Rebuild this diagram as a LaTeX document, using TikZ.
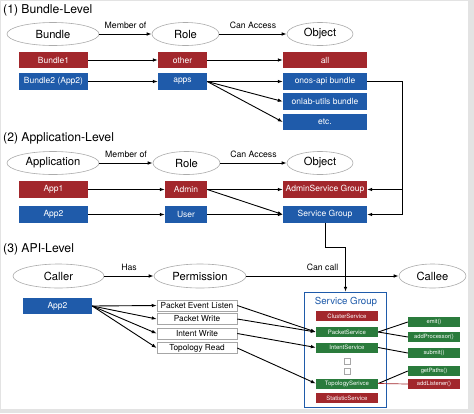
\documentclass[tikz,border=0pt]{standalone}
\usepackage{fontspec}
\setmainfont{TeX Gyre Heros}
\usetikzlibrary{arrows.meta,shapes.geometric}
\definecolor{bred}{HTML}{A2272C}
\definecolor{bblue}{HTML}{1F5BAA}
\definecolor{bgreen}{HTML}{2A7B3C}
\begin{document}
\begin{tikzpicture}[x=1pt,y=-1pt,
  ell/.style={ellipse, draw=gray!65, line width=0.6pt, inner sep=0, font=\fontsize{11.2}{13}\selectfont},
  boxb/.style={inner sep=0, minimum height=16.5pt, text=white, font=\fontsize{8.5}{9}\selectfont},
  rbox/.style={boxb, fill=bred},
  bbox/.style={boxb, fill=bblue},
  pbox/.style={draw=gray!70, line width=0.5pt, fill=white, minimum width=80pt, minimum height=11pt, inner sep=0, font=\fontsize{8.3}{9}\selectfont},
  sbox/.style={minimum width=62pt, minimum height=10pt, inner sep=0, text=white, font=\fontsize{6}{6}\selectfont},
  mbox/.style={minimum width=52pt, minimum height=10pt, inner sep=0, text=white, font=\fontsize{5.8}{6}\selectfont},
  arr/.style={-{Latex[length=5pt,width=3.6pt]}, line width=0.9pt},
  ln/.style={line width=0.9pt},
  lbl/.style={font=\fontsize{8.7}{10}\selectfont, inner sep=0},
  ttl/.style={font=\fontsize{12.2}{14}\selectfont, anchor=west, inner sep=0}
]
\fill[gray!22] (0,0) rectangle (474,413);
\fill[white] (1.2,1.2) rectangle (468,409);
\useasboundingbox (0,0) rectangle (474,413);

% ---------- Section 1
\node[ttl] (t1) at (3,10) {(1) Bundle-Level};
\node[ell, minimum width=92pt, minimum height=23pt] (bundle) at (53,34) {Bundle};
\node[ell, minimum width=67pt, minimum height=23pt] (role1) at (185.5,34) {Role};
\node[ell, minimum width=66pt, minimum height=23pt] (obj1) at (320,34) {Object};
\draw[arr] (bundle) -- node[lbl, above=5pt] (mo1) {Member of} (role1);
\draw[arr] (role1) -- node[lbl, above=5pt] (ca1) {Can Access} (obj1);

\node[rbox, minimum width=69pt] (b1) at (53.5,60) {Bundle1};
\node[bbox, minimum width=69pt] (b2) at (53.5,81.5) {Bundle2 (App2)};
\node[rbox, minimum width=49pt] (other) at (182.5,60) {other};
\node[bbox, minimum width=49pt] (apps) at (182.5,81.5) {apps};
\node[rbox, minimum width=84pt] (all) at (325,60) {all};
\node[bbox, minimum width=84pt] (onos) at (325,81.5) {onos-api bundle};
\node[bbox, minimum width=84pt] (onlab) at (325,101.5) {onlab-utils bundle};
\node[bbox, minimum width=84pt] (etc) at (325,122) {etc.};

\draw[arr] (b1) -- (other);
\draw[arr] (b2) -- (apps);
\draw[arr] (other) -- (all);
\draw[arr] (apps.east) -- (onos.west);
\draw[arr] (apps.east) -- (onlab.west);
\draw[arr] (apps.east) -- (etc.west);

% ---------- Section 2
\node[ttl] (t2) at (3,138) {(2) Application-Level};
\node[ell, minimum width=92pt, minimum height=23pt] (appl) at (53,163) {Application};
\node[ell, minimum width=67pt, minimum height=23pt] (role2) at (186.5,163) {Role};
\node[ell, minimum width=66pt, minimum height=23pt] (obj2) at (320,163) {Object};
\draw[arr] (appl) -- node[lbl, above=5pt] (mo2) {Member of} (role2);
\draw[arr] (role2) -- node[lbl, above=5pt] (ca2) {Can Access} (obj2);

\node[rbox, minimum width=69pt] (app1) at (53.5,189.5) {App1};
\node[bbox, minimum width=69pt] (app2) at (53.5,214.5) {App2};
\node[rbox, minimum width=42pt] (admin) at (186,189.5) {Admin};
\node[bbox, minimum width=42pt] (user) at (186,214.5) {User};
\node[rbox, minimum width=84pt] (asg) at (325,189.5) {AdminService Group};
\node[bbox, minimum width=84pt] (sg) at (325,214.5) {Service Group};

\draw[arr] (app1) -- (admin);
\draw[arr] (app2) -- (user);
\draw[arr] (admin) -- (asg);
\draw[arr] (admin.east) -- (sg.west);
\draw[arr] (user) -- (sg);

\coordinate (c2) at (402,189.5);
\coordinate (c3) at (402,214.5);
\draw[arr] (onos.east) -| (c3) -- (sg.east);
\draw[arr] (c2) -- (asg.east);

% ---------- Section 3
\node[ttl] (t3) at (3,249) {(3) API-Level};
\node[ell, minimum width=91pt, minimum height=24pt] (caller) at (58.5,276) {Caller};
\node[ell, minimum width=92pt, minimum height=24pt] (perm) at (200,276) {Permission};
\node[ell, minimum width=67pt, minimum height=24pt] (callee) at (432.5,276) {Callee};
\draw[arr] (caller) -- node[lbl, above=5pt] (has) {Has} (perm);
\draw[arr] (perm) -- node[lbl, above=5pt] (cc) {Can call} (callee);

\node[bbox, minimum width=69pt] (app2c) at (57.5,306) {App2};
\node[pbox] (pel) at (197,305.5) {Packet Event Listen};
\node[pbox] (pw) at (197,319) {Packet Write};
\node[pbox] (iw) at (197,333.5) {Intent Write};
\node[pbox] (tr) at (197,348) {Topology Read};
\draw[arr] (app2c.east) -- (pel.west);
\draw[arr] (app2c.east) -- (pw.west);
\draw[arr] (app2c.east) -- (iw.west);
\draw[arr] (app2c.east) -- (tr.west);

\node[draw=bblue, line width=1.5pt, minimum width=82pt, minimum height=115pt, inner sep=0] (sgc) at (345.5,350) {};
\node[text=bblue, inner sep=0, font=\fontsize{9.7}{11}\selectfont] (sgt) at (346,302) {Service Group};
\node[sbox, fill=bred] (clus) at (347,316) {ClusterService};
\node[sbox, fill=bgreen] (pack) at (347,332) {PacketService};
\node[sbox, fill=bgreen] (intent) at (347,347.5) {IntentService};
\node[draw=gray!70, line width=0.5pt, minimum size=6pt, inner sep=0] (sq1) at (347,361) {};
\node[draw=gray!70, line width=0.5pt, minimum size=6pt, inner sep=0] (sq2) at (347,371) {};
\node[sbox, fill=bgreen] (topo) at (347,383.5) {TopologySerivce};
\node[sbox, fill=bred] (stat) at (347,398) {StatisticService};

\node[mbox, fill=bgreen] (emit) at (434,322) {emit()};
\node[mbox, fill=bgreen] (addp) at (434,337) {addProcessor()};
\node[mbox, fill=bgreen] (submit) at (434,353) {submit()};
\node[mbox, fill=bgreen] (getp) at (434,371) {getPaths()};
\node[mbox, fill=bred] (addl) at (434,384) {addListener()};

\draw[arr] (pel.east) -- (pack.west);
\draw[arr] (pw.east) -- (pack.west);
\draw[arr] (iw.east) -- (intent.west);
\draw[arr] (tr.east) -- (topo.west);

\draw[ln] (pack.east) -- (emit.west);
\draw[ln] (pack.east) -- (addp.west);
\draw[ln] (intent.east) -- (submit.west);
\draw[ln] (topo.east) -- (getp.west);
\draw[bred, line width=0.7pt] (topo.east) -- (addl.west);

\draw[arr] (sg.south) -- ++(0,24) -| (sgc.north);
\end{tikzpicture}
\end{document}
